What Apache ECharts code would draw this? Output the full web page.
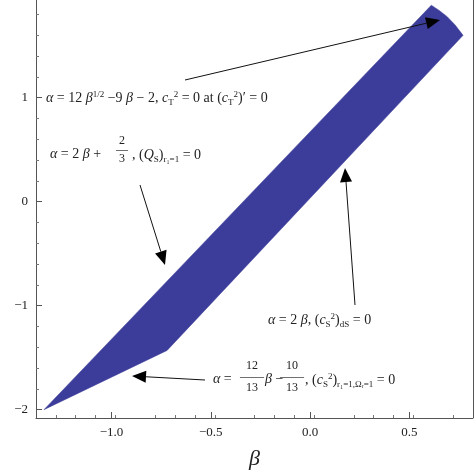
<!DOCTYPE html><html><head><meta charset="utf-8">
<script src="https://cdn.jsdelivr.net/npm/echarts@6/dist/echarts.min.js"></script>
<style>html,body{margin:0;padding:0;background:#fff}#c{width:474px;height:474px}</style></head><body><div id="c"></div>
<script>
// boundary vertices of the region (beta, alpha)
const betaPts  = [-1.34, -0.72, 0.77, 0.73, 0.69, 0.65, 0.61];
const alphaPts = [-2.00, -1.43, 1.60, 1.70, 1.78, 1.84, 1.89];
const xTicks = [-1.0, -0.5, 0.0, 0.5];
const yTicks = [-2, -1, 0, 1];

const F = 'Liberation Serif';
const chart = echarts.init(document.getElementById('c'));
const poly = betaPts.map((b,i)=>[b, alphaPts[i]]);
const rich = {
  n:{fontFamily:F,fontSize:14,color:'#222'},
  s:{fontFamily:F,fontSize:9,color:'#222',verticalAlign:'bottom',padding:[0,0,8,0]},
  b:{fontFamily:F,fontSize:9,color:'#222',verticalAlign:'top',padding:[8,0,0,0]},
  i:{fontFamily:F,fontSize:14,fontStyle:'italic',color:'#222'}
};
function txt(x,y,t){return {type:'text',x,y,z:100,style:{text:t,rich,fontFamily:F,fontSize:14,fill:'#222'}};}
function arrow(x1,y1,x2,y2){
  const a=Math.atan2(y2-y1,x2-x1),L=14,W=6;
  const bx=x2-L*Math.cos(a),by=y2-L*Math.sin(a);
  return [{type:'line',z:100,shape:{x1,y1,x2:bx,y2:by},style:{stroke:'#111',lineWidth:1}},
    {type:'polygon',z:100,shape:{points:[[x2,y2],[bx-W*Math.sin(a),by+W*Math.cos(a)],[bx+W*Math.sin(a),by-W*Math.cos(a)]]},style:{fill:'#000'}}];
}
const minus = v=>String(v).replace('-','−');
const base = {axisLine:{onZero:false,lineStyle:{color:'#555'}},
  minorTick:{show:true,splitNumber:5,length:3,lineStyle:{color:'#777'}},splitLine:{show:false}};
chart.setOption({
  animation:false,
  grid:{left:36,right:1,top:0,bottom:56,containLabel:false,outerBoundsMode:'none'},
  xAxis:Object.assign({},base,{type:'value',min:-1.38,max:0.82,interval:0.5,
    axisLabel:{fontFamily:F,fontSize:13,color:'#222',customValues:xTicks,formatter:v=>minus(v.toFixed(1))},
    axisTick:{inside:true,length:6,customValues:xTicks,lineStyle:{color:'#555'}},
    name:'β',nameLocation:'middle',nameGap:30,nameTextStyle:{fontFamily:F,fontSize:22,fontStyle:'italic',color:'#222'}}),
  yAxis:Object.assign({},base,{type:'value',min:-2.08,max:1.94,
    axisLabel:{fontFamily:F,fontSize:13,color:'#222',customValues:yTicks,formatter:v=>minus(v)},
    axisTick:{inside:true,length:6,customValues:yTicks,lineStyle:{color:'#555'}},
    name:'α',nameLocation:'middle',nameGap:24,nameRotate:90,nameTextStyle:{fontFamily:F,fontSize:22,fontStyle:'italic',color:'#222'}}),
  series:[{type:'custom',data:[0],z:2,renderItem:(p,api)=>({type:'polygon',
    shape:{points:poly.map(q=>api.coord(q))},style:{fill:'#3c3c9a',stroke:'#3c3c9a',lineWidth:0.5}})}],
  graphic:[
    {type:'rect',z:100,shape:{x:473,y:0,width:1,height:418},style:{fill:'#555'}},
    txt(46,90,'{i|α} = 12 {i|β}{s|1/2} −9 {i|β} − 2, {i|c}{b|T}{s|2} = 0 at ({i|c}{b|T}{s|2})′ = 0'),
    txt(50,147,'{i|α} = 2 {i|β} + '),
    {type:'text',z:100,x:122,y:136,style:{text:'2\n—\n3',fontFamily:F,fontSize:12,lineHeight:9,align:'center',fill:'#222'}},
    txt(132,147,', ({i|Q}{b|S}){b|r₁=1} = 0'),
    txt(268,312,'{i|α} = 2 {i|β}, ({i|c}{b|S}{s|2}){b|dS} = 0'),
    txt(213,372,'{i|α} = '),
    {type:'text',z:100,x:252,y:360,style:{text:'12\n——\n13',fontFamily:F,fontSize:12,lineHeight:11,align:'center',fill:'#222'}},
    txt(265,372,'{i|β} − '),
    {type:'text',z:100,x:292,y:360,style:{text:'10\n——\n13',fontFamily:F,fontSize:12,lineHeight:11,align:'center',fill:'#222'}},
    txt(305,372,', ({i|c}{b|S}{s|2}){b|r₁=1,Ωᵣ=1} = 0'),
    ...arrow(185,80,440,20),
    ...arrow(140,185,165,265),
    ...arrow(355,305,345,168),
    ...arrow(205,380,132,376)
  ]
});
</script></body></html>
